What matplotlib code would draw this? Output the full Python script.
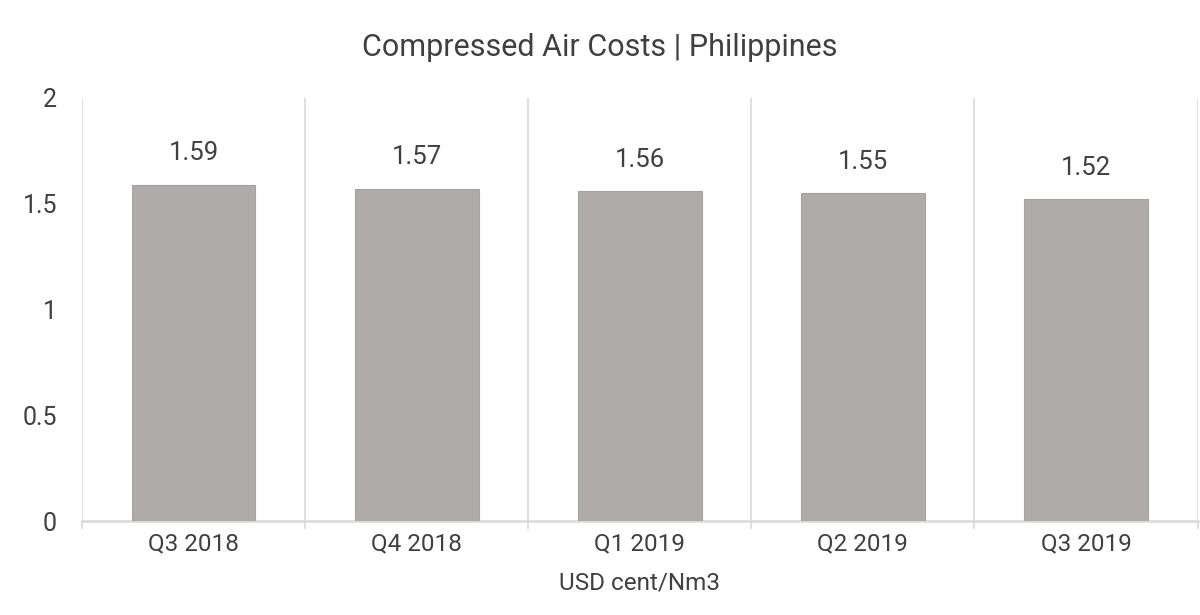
import matplotlib.pyplot as plt
import numpy as np

plt.rcParams['font.family'] = ['Roboto', 'DejaVu Sans']

# chart data
quarters = ['Q3 2018', 'Q4 2018', 'Q1 2019', 'Q2 2019', 'Q3 2019']
costs = [1.59, 1.57, 1.56, 1.55, 1.52]
y_ticks = [0, 0.5, 1, 1.5, 2]
y_tick_labels = ['0', '0.5', '1', '1.5', '2']

text_col = '#404040'
grid_col = '#D9D9D9'
bar_col = '#AFABAB'

fig = plt.figure(figsize=(12, 6.15), dpi=100)
ax = fig.add_axes([0.0683, 0.1528, 0.9297, 0.688])

x = np.arange(len(quarters))
bars = ax.bar(x, costs, width=0.555, color=bar_col, edgecolor='#A6A3A3', linewidth=0.8, zorder=3)

for xi, v in zip(x, costs):
    ax.annotate(f'{v:.2f}', (xi, v), xytext=(0, 14), textcoords='offset points',
                ha='center', va='bottom', fontsize=18.5, color=text_col)

ax.set_xlim(-0.5, len(quarters) - 0.5)
ax.set_ylim(0, 2)
ax.set_xticks(x)
ax.set_xticklabels(quarters)
ax.set_xticks(np.arange(-0.5, len(quarters)), minor=True)
ax.set_yticks(y_ticks)
ax.set_yticklabels(y_tick_labels)

ax.tick_params(axis='x', which='major', length=0, pad=8, labelsize=17.5, labelcolor=text_col)
ax.tick_params(axis='x', which='minor', length=6, color=grid_col, width=1.2)
ax.tick_params(axis='y', length=0, pad=18, labelsize=18, labelcolor=text_col)
ax.grid(axis='x', which='minor', color=grid_col, linewidth=1.2, zorder=0)

for s in ['left', 'right', 'top']:
    ax.spines[s].set_visible(False)
ax.spines['bottom'].set_color(grid_col)
ax.spines['bottom'].set_linewidth(1.8)

ax.set_xlabel('USD cent/Nm3', fontsize=17.5, color=text_col, labelpad=12)
fig.text(0.5, 0.922, 'Compressed Air Costs | Philippines', ha='center', va='center',
         fontsize=22, color=text_col)

fig.savefig('out.png', dpi=100)
